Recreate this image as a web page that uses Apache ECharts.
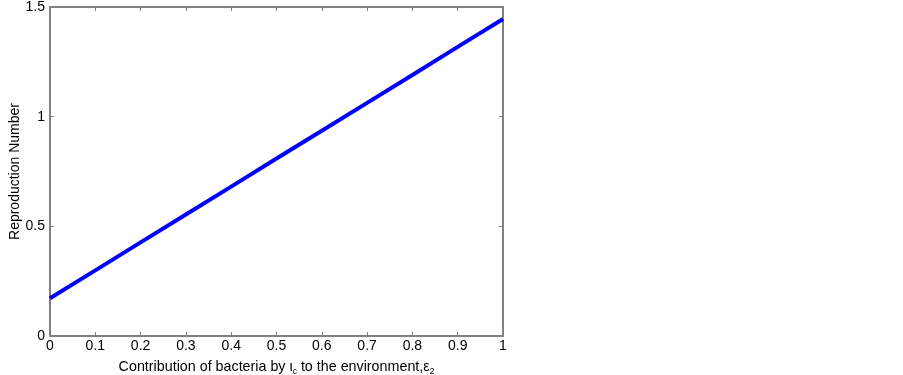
<!DOCTYPE html>
<html><head><meta charset="utf-8">
<script src="https://cdn.jsdelivr.net/npm/echarts@6/dist/echarts.min.js"></script>
<style>html,body{margin:0;padding:0;background:#fff}#c{width:903px;height:375px}</style>
</head><body><div id="c"></div>
<script>
const xValues = [0, 0.1, 0.2, 0.3, 0.4, 0.5, 0.6, 0.7, 0.8, 0.9, 1];
const r0Values = [0.172, 0.299, 0.427, 0.554, 0.681, 0.809, 0.936, 1.063, 1.190, 1.318, 1.445];
const xTicks = [0, 0.1, 0.2, 0.3, 0.4, 0.5, 0.6, 0.7, 0.8, 0.9, 1];
const yTicks = [0, 0.5, 1, 1.5];

const chart = echarts.init(document.getElementById('c'));
const font = '"Liberation Sans", Arial, sans-serif';
const fs = 14;
const axisCol = '#808080';
const baseAxis = {
  axisLine: {show: true, onZero: false, lineStyle: {color: axisCol, width: 2}},
  axisTick: {show: true, inside: true, length: 4, lineStyle: {color: axisCol, width: 1}},
  splitLine: {show: false}
};
chart.setOption({
  animation: false,
  grid: {left: 50, right: 400, top: 7, bottom: 39, containLabel: false, outerBoundsMode: 'none'},
  xAxis: [
    Object.assign({type: 'value', min: 0, max: 1, interval: 0.1, position: 'bottom',
      axisLabel: {color: '#000', fontSize: fs, fontFamily: font, margin: 3,
        formatter: v => { const r = Math.round(v*10)/10; return xTicks.includes(r) ? String(r) : ''; }},
      name: '{t|Contribution of bacteria by ι}{s|c}{t| to the environment,ε}{s|2}',
      nameLocation: 'middle', nameGap: 22, nameMoveOverlap: false,
      nameTextStyle: {rich: {t: {fontSize: 14.3, fontFamily: font, color: '#000'},
                              s: {fontSize: 8.5, fontFamily: font, color: '#000', verticalAlign: 'bottom', padding: [9,0,0,0]}}}
    }, baseAxis),
    Object.assign({type: 'value', min: 0, max: 1, interval: 0.1, position: 'top',
      axisLabel: {show: false}}, baseAxis)
  ],
  yAxis: [
    Object.assign({type: 'value', min: 0, max: 1.5, interval: 0.5, position: 'left',
      axisLabel: {color: '#000', fontSize: fs, fontFamily: font, margin: 5,
        formatter: v => yTicks.includes(v) ? String(v) : ''},
      name: 'Reproduction Number', nameLocation: 'middle', nameGap: 28, nameRotate: 90, nameMoveOverlap: false,
      nameTextStyle: {fontSize: fs, fontFamily: font, color: '#000'}
    }, baseAxis),
    Object.assign({type: 'value', min: 0, max: 1.5, interval: 0.5, position: 'right',
      axisLabel: {show: false}}, baseAxis)
  ],
  series: [{
    type: 'line', xAxisIndex: 0, yAxisIndex: 0,
    data: xValues.map((x, i) => [x, r0Values[i]]),
    showSymbol: false, symbol: 'none',
    lineStyle: {color: '#0000ff', width: 4}
  }]
});
</script></body></html>
